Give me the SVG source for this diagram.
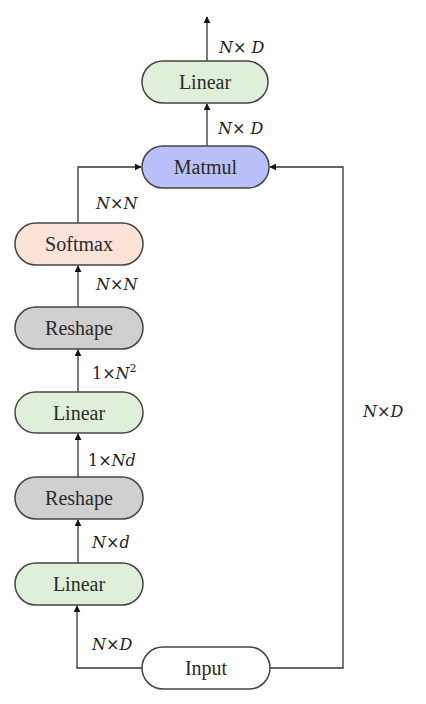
<svg xmlns="http://www.w3.org/2000/svg" width="426" height="704" viewBox="0 0 426 704">
<style>
.n{stroke:#444;stroke-width:1.5}
.t{font-family:"Liberation Serif","Times New Roman",serif;font-size:20px;fill:#2a2a2a;text-anchor:middle;dominant-baseline:central}
.m{font-family:"DejaVu Serif","Liberation Serif",serif;font-style:italic;font-size:16px;fill:#222}
.u{font-style:normal}
.c{fill:none;stroke:#333;stroke-width:1.3}
.green{fill:#e0efd9}.blue{fill:#bac1f8}.peach{fill:#fbe4d7}.gray{fill:#d0d0d0}.white{fill:#fff}
</style>
<defs>
<marker id="ah" viewBox="0 0 10 10" refX="9" refY="5" markerWidth="7" markerHeight="7" markerUnits="userSpaceOnUse" orient="auto">
<path d="M0,0 L10,5 L0,10 z" fill="#111"/>
</marker>
</defs>
<g id="connectors">
<path class="c" d="M207,61 V17" marker-end="url(#ah)"/>
<path class="c" d="M207,146 V104" marker-end="url(#ah)"/>
<path class="c" d="M78,223 V167 H141" marker-end="url(#ah)"/>
<path class="c" d="M78,307 V266" marker-end="url(#ah)"/>
<path class="c" d="M78,392 V350" marker-end="url(#ah)"/>
<path class="c" d="M78,477 V434" marker-end="url(#ah)"/>
<path class="c" d="M78,563 V520" marker-end="url(#ah)"/>
<path class="c" d="M142,668 H77 V606" marker-end="url(#ah)"/>
<path class="c" d="M270,668 H343 V167 H270" marker-end="url(#ah)"/>
</g>
<g id="labels">
<text class="m" x="219" y="53">N<tspan class="u">× </tspan>D</text>
<text class="m" x="218" y="134">N<tspan class="u">× </tspan>D</text>
<text class="m" x="96" y="209">N<tspan class="u">×</tspan>N</text>
<text class="m" x="96" y="290">N<tspan class="u">×</tspan>N</text>
<text class="m" x="92" y="379"><tspan class="u">1×</tspan>N<tspan dy="-7" font-size="11" class="u">2</tspan></text>
<text class="m" x="88" y="466"><tspan class="u">1×</tspan>Nd</text>
<text class="m" x="92" y="548">N<tspan class="u">×</tspan>d</text>
<text class="m" x="92" y="650">N<tspan class="u">×</tspan>D</text>
<text class="m" x="363" y="417">N<tspan class="u">×</tspan>D</text>
</g>
<g id="linear_top"><rect class="n green" x="142" y="61" width="126" height="42" rx="21"/><text class="t" x="205" y="82">Linear</text></g>
<g id="matmul"><rect class="n blue" x="142" y="146" width="127" height="42" rx="21"/><text class="t" x="205.5" y="167">Matmul</text></g>
<g id="softmax"><rect class="n peach" x="15" y="223" width="128" height="42" rx="21"/><text class="t" x="79" y="244">Softmax</text></g>
<g id="reshape1"><rect class="n gray" x="15" y="307" width="128" height="42" rx="21"/><text class="t" x="79" y="328">Reshape</text></g>
<g id="linear2"><rect class="n green" x="15" y="392" width="128" height="41" rx="20.5"/><text class="t" x="79" y="412.5">Linear</text></g>
<g id="reshape2"><rect class="n gray" x="15" y="477" width="128" height="42" rx="21"/><text class="t" x="79" y="498">Reshape</text></g>
<g id="linear3"><rect class="n green" x="15" y="563" width="128" height="42" rx="21"/><text class="t" x="79" y="584">Linear</text></g>
<g id="input"><rect class="n white" x="142" y="647" width="128" height="42" rx="21"/><text class="t" x="206" y="668">Input</text></g>
</svg>
